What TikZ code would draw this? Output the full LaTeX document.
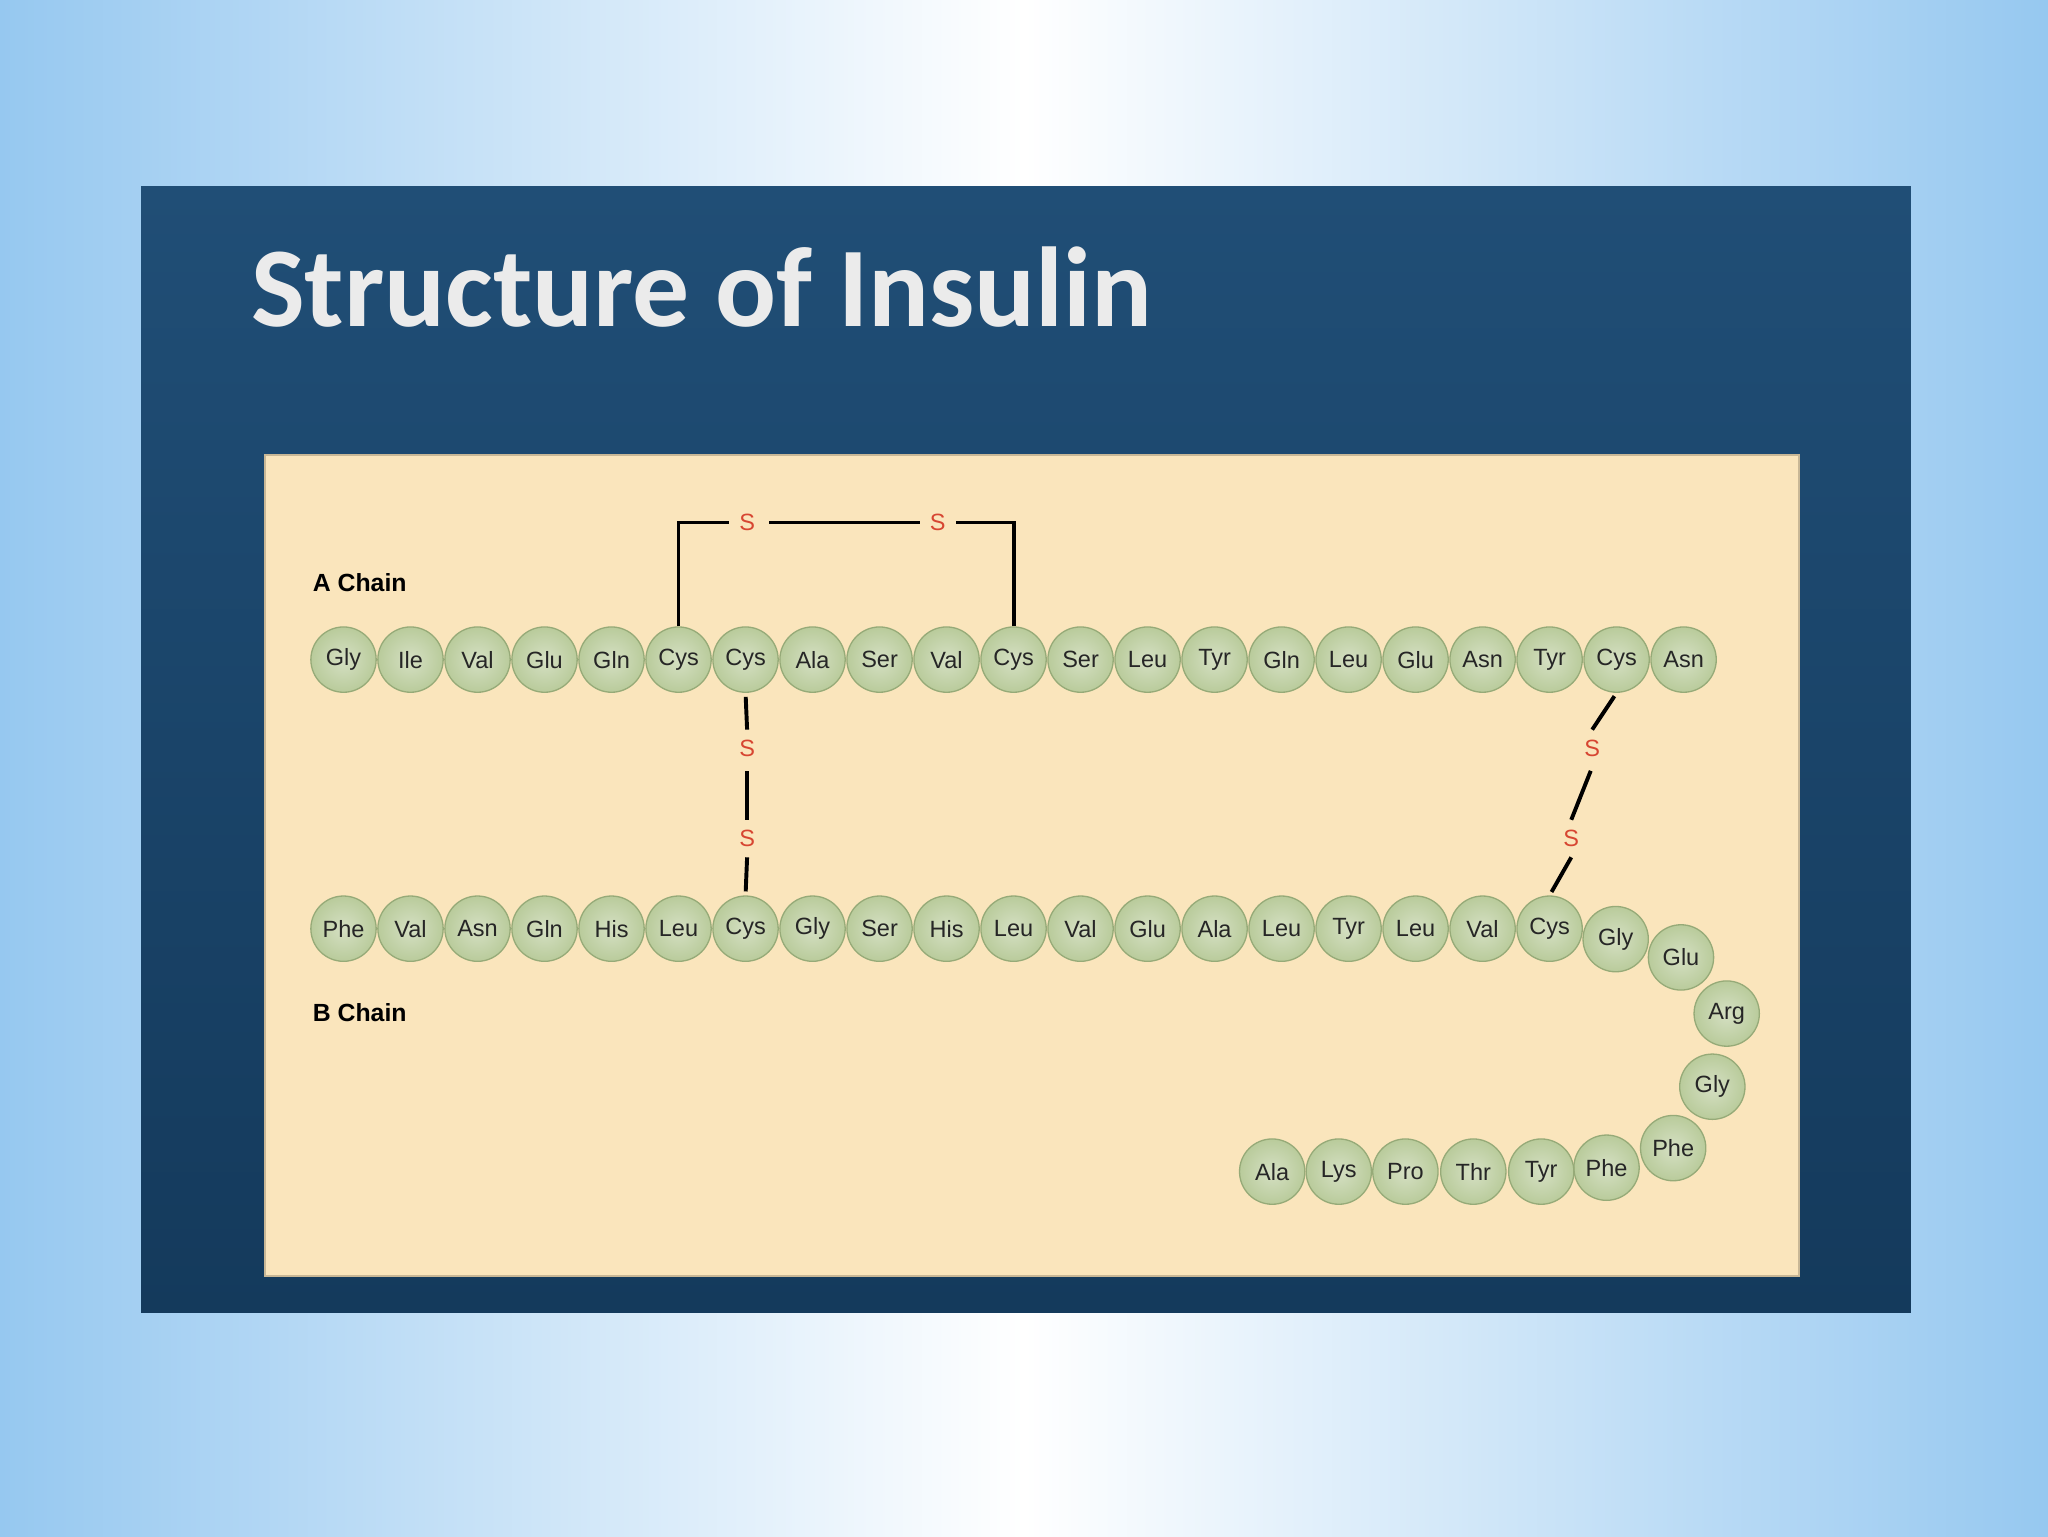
\documentclass[tikz,border=0pt]{standalone}
\usepackage{fontspec}
\setmainfont{Liberation Sans}
\newfontfamily\titlefont{Carlito}
\usetikzlibrary{positioning}
\definecolor{skyblue}{RGB}{150,200,240}
\definecolor{navy}{RGB}{20,58,92}
\definecolor{navylight}{RGB}{32,78,118}
\definecolor{beige}{RGB}{250,229,188}
\definecolor{bead}{RGB}{185,203,155}
\definecolor{beadrim}{RGB}{150,170,120}
\definecolor{sred}{RGB}{215,70,50}
\tikzset{res/.style={circle,minimum size=50pt,inner sep=0pt,draw=beadrim,line width=1pt,
    inner color=bead!60!white,outer color=bead,font=\fontsize{18}{20}\selectfont,text=black!85},
  sulf/.style={inner sep=1pt,outer sep=7pt,text=sred,font=\fontsize{18}{20}\selectfont},
  bond/.style={line width=3pt,black,shorten <=3pt}}
\begin{document}
\begin{tikzpicture}[x=1pt,y=-1pt]
\useasboundingbox (0,0) rectangle (1568,1176);
% background
\shade[left color=skyblue,right color=skyblue,middle color=white] (0,0) rectangle (1568,1176);
\shade[top color=navylight,bottom color=navy] (108,143) rectangle (1463,1005);
\node[anchor=base west,inner sep=0pt,text=white!92!black,font=\titlefont\bfseries\fontsize{87}{90}\selectfont] (title) at (192,250) {Structure of Insulin};
\fill[beige,draw=beige!80!black,line width=1.5pt] (203,348) rectangle (1377,977);
% chains
\node[anchor=west,font=\bfseries\fontsize{19}{20}\selectfont] (alabel) at (236,446) {A Chain};
\node[anchor=west,font=\bfseries\fontsize{19}{20}\selectfont] (blabel) at (236,775) {B Chain};
\foreach \n [count=\i] in {Gly,Ile,Val,Glu,Gln,Cys,Cys,Ala,Ser,Val,Cys,Ser,Leu,Tyr,Gln,Leu,Glu,Asn,Tyr,Cys,Asn}
  \node[res] (a\i) at ({263+51.3*(\i-1)},505) {\n};
\foreach \n [count=\i] in {Phe,Val,Asn,Gln,His,Leu,Cys,Gly,Ser,His,Leu,Val,Glu,Ala,Leu,Tyr,Leu,Val,Cys}
  \node[res] (b\i) at ({263+51.3*(\i-1)},711) {\n};
\foreach \n/\x/\y [count=\i from 20] in {Gly/1237/719,Glu/1287/733,Arg/1322/776,Gly/1311/832,Phe/1281/879,
    Phe/1230/894,Tyr/1180/897,Thr/1128/897,Pro/1076/897,Lys/1025/897,Ala/974/897}
  \node[res] (b\i) at (\x,\y) {\n};
% disulfide bridges
\node[sulf] (s1) at (572,400) {S};
\node[sulf] (s2) at (718,400) {S};
\draw[bond,shorten <=0pt] (a6.north) |- (s1.west);
\draw[bond] (s1.east) -- (s2.west);
\draw[bond,shorten <=0pt] (a11.north) |- (s2.east);
\node[sulf] (s3) at (572,573) {S};
\node[sulf] (s4) at (572,642) {S};
\draw[bond] (a7.south) -- (s3.north);
\draw[bond] (s3.south) -- (s4.north);
\draw[bond] (b7.north) -- (s4.south);
\node[sulf] (s5) at (1219,573) {S};
\node[sulf] (s6) at (1203,642) {S};
\draw[bond] (a20.south) -- (s5.north);
\draw[bond] (s5.south) -- (s6.north);
\draw[bond] (b19.north) -- (s6.south);
\end{tikzpicture}
\end{document}
